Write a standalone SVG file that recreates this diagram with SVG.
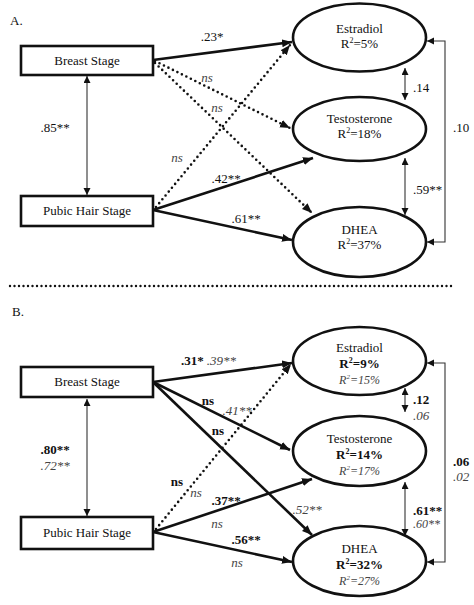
<svg xmlns="http://www.w3.org/2000/svg" width="474" height="605" viewBox="0 0 474 605">
<style>
text{font-family:"Liberation Serif","Times New Roman",serif;font-size:13px;fill:#111}
.c{text-anchor:middle}
.b{font-weight:bold}
.i{font-style:italic;fill:#444}
.s{font-size:12px}
.box{fill:#fff;stroke:#111;stroke-width:2.6}
.ell{fill:#fff;stroke:#111;stroke-width:2.6}
.solid{fill:none;stroke:#111;stroke-width:2.6;marker-end:url(#ah)}
.dot{fill:none;stroke:#111;stroke-width:2.6;stroke-dasharray:0 5;stroke-linecap:round;marker-end:url(#ah)}
.thin{fill:none;stroke:#333;stroke-width:1.1;marker-start:url(#sh);marker-end:url(#sh)}
.sep{fill:none;stroke:#111;stroke-width:2.4;stroke-dasharray:0 4.5;stroke-linecap:round}
</style>
<defs>
<marker id="ah" markerUnits="userSpaceOnUse" markerWidth="11" markerHeight="9" refX="10" refY="4" orient="auto"><path d="M0,0 L10,4 L0,8 Z" fill="#111"/></marker>
<marker id="sh" markerUnits="userSpaceOnUse" markerWidth="8" markerHeight="8" refX="7" refY="3.5" orient="auto-start-reverse"><path d="M0,0 L7,3.5 L0,7 Z" fill="#111"/></marker>
</defs>
<text x="10" y="25">A.</text>
<text x="12" y="316">B.</text>
<line class="sep" x1="10" y1="286" x2="452" y2="286"/>
<g id="connectors">
<line class="thin" x1="87" y1="76" x2="87" y2="195"/>
<line class="solid" x1="153" y1="60" x2="292" y2="42"/>
<line class="dot" x1="155" y1="61" x2="290" y2="128"/>
<line class="dot" x1="155" y1="63" x2="312" y2="213"/>
<line class="dot" x1="156" y1="207" x2="290" y2="45"/>
<line class="solid" x1="153" y1="210" x2="313" y2="158"/>
<line class="solid" x1="153" y1="210" x2="292" y2="240"/>
<line class="thin" x1="405" y1="68" x2="405" y2="100"/>
<line class="thin" x1="405" y1="158" x2="405" y2="215"/>
<path class="thin" d="M427,41 H445 V242 H427"/>
<line class="thin" x1="87" y1="399" x2="87" y2="516"/>
<line class="solid" x1="153" y1="382" x2="292" y2="363"/>
<line class="solid" x1="153" y1="382" x2="290" y2="450"/>
<line class="solid" x1="153" y1="382" x2="312" y2="535"/>
<line class="dot" x1="156" y1="529" x2="291" y2="364"/>
<line class="solid" x1="153" y1="532" x2="312" y2="479"/>
<line class="solid" x1="153" y1="532" x2="292" y2="562"/>
<line class="thin" x1="405" y1="388" x2="405" y2="412"/>
<line class="thin" x1="405" y1="482" x2="405" y2="536"/>
<path class="thin" d="M427,363 H445 V562 H427"/>
</g>
<g id="labels-a">
<text class="c" x="212" y="41">.23*</text>
<text class="c i" x="207" y="82">ns</text>
<text class="c i" x="217" y="112">ns</text>
<text class="c i" x="177" y="162">ns</text>
<text class="c" x="226" y="183">.42**</text>
<text class="c" x="246" y="223">.61**</text>
<text class="c" x="55" y="132">.85**</text>
<text x="413" y="92">.14</text>
<text x="413" y="194">.59**</text>
<text x="453" y="132">.10</text>
</g>
<g id="labels-b">
<text x="181" y="365"><tspan class="b">.31*</tspan><tspan class="i" dx="3">.39**</tspan></text>
<text class="c b" x="208" y="405">ns</text>
<text class="c i" x="237" y="415">.41**</text>
<text class="c b" x="218" y="435">ns</text>
<text class="c i" x="307" y="514">.52**</text>
<text class="c b" x="177" y="486">ns</text>
<text class="c i" x="196" y="497">ns</text>
<text class="c b" x="226" y="505">.37**</text>
<text class="c i" x="217" y="528">ns</text>
<text class="c b" x="246" y="544">.56**</text>
<text class="c i" x="237" y="567">ns</text>
<text class="c b" x="55" y="454">.80**</text>
<text class="c i" x="55" y="470">.72**</text>
<text class="b" x="413" y="404">.12</text>
<text class="i" x="413" y="420">.06</text>
<text class="b" x="413" y="515">.61**</text>
<text class="i s" x="413" y="528">.60**</text>
<text class="b" x="453" y="466">.06</text>
<text class="i" x="453" y="481">.02</text>
</g>
<g id="breast-a"><rect class="box" x="21" y="46" width="132" height="29"/><text class="c" x="87" y="65">Breast Stage</text></g>
<g id="pubic-a"><rect class="box" x="21" y="196" width="132" height="30"/><text class="c" x="87" y="215">Pubic Hair Stage</text></g>
<g id="estradiol-a"><ellipse class="ell" cx="359.5" cy="37.5" rx="66.5" ry="34"/><text class="c" x="359.5" y="33">Estradiol</text><text class="c" x="359.5" y="48">R<tspan dy="-5" font-size="8">2</tspan><tspan dy="5">=5%</tspan></text></g>
<g id="testosterone-a"><ellipse class="ell" cx="359.5" cy="129" rx="66.5" ry="32"/><text class="c" x="359.5" y="123">Testosterone</text><text class="c" x="359.5" y="138">R<tspan dy="-5" font-size="8">2</tspan><tspan dy="5">=18%</tspan></text></g>
<g id="dhea-a"><ellipse class="ell" cx="359.5" cy="242" rx="66.5" ry="35"/><text class="c" x="359.5" y="234">DHEA</text><text class="c" x="359.5" y="249">R<tspan dy="-5" font-size="8">2</tspan><tspan dy="5">=37%</tspan></text></g>
<g id="breast-b"><rect class="box" x="21" y="367" width="132" height="30"/><text class="c" x="87" y="386">Breast Stage</text></g>
<g id="pubic-b"><rect class="box" x="21" y="517" width="132" height="32"/><text class="c" x="87" y="537">Pubic Hair Stage</text></g>
<g id="estradiol-b"><ellipse class="ell" cx="359.5" cy="361" rx="66.5" ry="34"/><text class="c" x="359.5" y="352">Estradiol</text><text class="c b" x="359.5" y="368">R<tspan dy="-5" font-size="8">2</tspan><tspan dy="5">=9%</tspan></text><text class="c i s" x="359.5" y="384">R<tspan dy="-5" font-size="7">2</tspan><tspan dy="5">=15%</tspan></text></g>
<g id="testosterone-b"><ellipse class="ell" cx="359.5" cy="451" rx="66.5" ry="35"/><text class="c" x="359.5" y="443">Testosterone</text><text class="c b" x="359.5" y="459">R<tspan dy="-5" font-size="8">2</tspan><tspan dy="5">=14%</tspan></text><text class="c i s" x="359.5" y="475">R<tspan dy="-5" font-size="7">2</tspan><tspan dy="5">=17%</tspan></text></g>
<g id="dhea-b"><ellipse class="ell" cx="359.5" cy="561" rx="66.5" ry="35"/><text class="c" x="359.5" y="553">DHEA</text><text class="c b" x="359.5" y="569">R<tspan dy="-5" font-size="8">2</tspan><tspan dy="5">=32%</tspan></text><text class="c i s" x="359.5" y="585">R<tspan dy="-5" font-size="7">2</tspan><tspan dy="5">=27%</tspan></text></g>
</svg>
